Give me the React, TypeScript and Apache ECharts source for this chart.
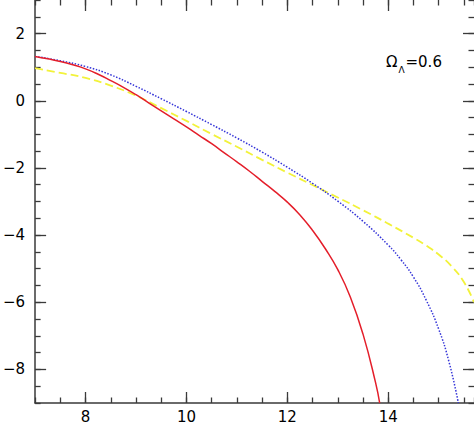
import React, { useEffect, useRef } from "react";
import * as echarts from "echarts";

// Curves
const redX = [7.0, 7.25, 7.5, 7.75, 8.0, 8.25, 8.5, 8.75, 9.0, 9.25, 9.5, 9.75, 10.0, 10.25, 10.5, 10.75, 11.0, 11.25, 11.5, 11.75, 12.0, 12.25, 12.5, 12.75, 13.0, 13.25, 13.5, 13.75, 13.83];
const redY = [1.32, 1.25, 1.17, 1.07, 0.95, 0.79, 0.6, 0.4, 0.18, -0.06, -0.3, -0.54, -0.78, -1.03, -1.28, -1.55, -1.82, -2.1, -2.4, -2.7, -3.02, -3.4, -3.86, -4.4, -5.03, -5.85, -6.95, -8.4, -9.0];

const blueX = [7.0, 7.5, 8.0, 8.5, 9.0, 9.5, 10.0, 10.5, 11.0, 11.5, 12.0, 12.5, 13.0, 13.5, 14.0, 14.25, 14.5, 14.75, 15.0, 15.2, 15.39];
const blueY = [1.32, 1.19, 1.02, 0.77, 0.43, 0.06, -0.32, -0.71, -1.11, -1.53, -1.98, -2.46, -2.99, -3.59, -4.3, -4.73, -5.25, -5.93, -6.8, -7.75, -9.0];

const yellowX = [7.0, 7.5, 8.0, 8.5, 9.0, 9.5, 10.0, 10.5, 11.0, 11.5, 12.0, 12.5, 13.0, 13.5, 14.0, 14.5, 14.75, 15.0, 15.25, 15.5, 15.7];
const yellowY = [0.97, 0.83, 0.68, 0.45, 0.15, -0.22, -0.6, -0.99, -1.37, -1.76, -2.14, -2.51, -2.88, -3.26, -3.66, -4.08, -4.31, -4.58, -4.92, -5.4, -6.0];

const xMajorTicks = [8, 10, 12, 14];
const yMajorTicks = [-8, -6, -4, -2, 0, 2];
const xMin = 7;
const xMax = 15.7;
const yMin = -9;
const yMax = 3;
const minorStep = 0.5;

const annotationMain = "\u03A9";
const annotationSub = "\u039B";
const annotationValue = "=0.6";

const pairs = (xs: number[], ys: number[]) => xs.map((x, i) => [x, ys[i]]);

export default function App() {
  const ref = useRef<HTMLDivElement>(null);

  useEffect(() => {
    document.body.style.margin = "0";
    const chart = echarts.init(ref.current as HTMLDivElement, null, { renderer: "svg" });
    const axisColor = "#3a3a3a";
    const font = "DejaVu Sans";
    const fmt = (v: number) => String(v).replace("-", "\u2212");

    const tickStyle = { color: axisColor, width: 1.3 };

    const xBase = {
      type: "value",
      min: xMin,
      max: xMax,
      interval: minorStep,
      splitLine: { show: false },
    };
    const yBase = {
      type: "value",
      min: yMin,
      max: yMax,
      interval: minorStep,
      splitLine: { show: false },
    };

    const majorX = (position: string, withLabels: boolean, withLine: boolean) => ({
      ...xBase,
      position,
      axisLine: { show: withLine, onZero: false, lineStyle: { color: axisColor, width: 1.5 } },
      axisTick: { show: true, inside: true, length: 11, customValues: xMajorTicks, lineStyle: tickStyle },
      axisLabel: withLabels
        ? {
            show: true,
            customValues: xMajorTicks,
            formatter: fmt,
            fontSize: 15,
            fontFamily: font,
            color: "#000",
            margin: 6,
          }
        : { show: false },
    });
    const minorX = (position: string) => ({
      ...xBase,
      position,
      axisLine: { show: false, onZero: false },
      axisTick: { show: true, inside: true, length: 5.5, lineStyle: tickStyle },
      axisLabel: { show: false },
    });
    const majorY = (position: string, withLabels: boolean, withLine: boolean) => ({
      ...yBase,
      position,
      axisLine: { show: withLine, onZero: false, lineStyle: { color: axisColor, width: 1.5 } },
      axisTick: { show: true, inside: true, length: 11, customValues: yMajorTicks, lineStyle: tickStyle },
      axisLabel: withLabels
        ? {
            show: true,
            customValues: yMajorTicks,
            formatter: fmt,
            fontSize: 15,
            fontFamily: font,
            color: "#000",
            margin: 10,
          }
        : { show: false },
    });
    const minorY = (position: string) => ({
      ...yBase,
      position,
      axisLine: { show: false, onZero: false },
      axisTick: { show: true, inside: true, length: 5.5, lineStyle: tickStyle },
      axisLabel: { show: false },
    });

    const lineSeries = (xs: number[], ys: number[], lineStyle: object, z: number) => ({
      type: "line",
      xAxisIndex: 0,
      yAxisIndex: 0,
      data: pairs(xs, ys),
      showSymbol: false,
      smooth: 0.5,
      clip: true,
      lineStyle,
      z,
    });

    chart.setOption({
      animation: false,
      backgroundColor: "#ffffff",
      grid: { left: 32, right: 0, top: 0, bottom: 20, containLabel: false },
      xAxis: [majorX("bottom", true, true), minorX("bottom"), majorX("top", false, false), minorX("top")],
      yAxis: [majorY("left", true, true), minorY("left"), majorY("right", false, false), minorY("right")],
      series: [
        lineSeries(yellowX, yellowY, { color: "#f2f23a", width: 1.8, type: [8, 4] }, 2),
        lineSeries(blueX, blueY, { color: "#3535d8", width: 1.5, type: [1.5, 1.6] }, 3),
        lineSeries(redX, redY, { color: "#e41e2a", width: 1.5 }, 4),
      ],
      graphic: [
        {
          type: "text",
          x: 386,
          y: 61.5,
          style: { text: annotationMain, fontSize: 15, fontFamily: font, fill: "#000", verticalAlign: "middle", align: "left" },
        },
        {
          type: "text",
          x: 398.5,
          y: 69.5,
          style: { text: annotationSub, fontSize: 9, fontFamily: font, fill: "#000", verticalAlign: "middle", align: "left" },
        },
        {
          type: "text",
          x: 405.5,
          y: 61.5,
          style: { text: annotationValue, fontSize: 15, fontFamily: font, fill: "#000", verticalAlign: "middle", align: "left" },
        },
      ],
    });

    return () => chart.dispose();
  }, []);

  return <div ref={ref} style={{ width: 474, height: 424 }} />;
}
